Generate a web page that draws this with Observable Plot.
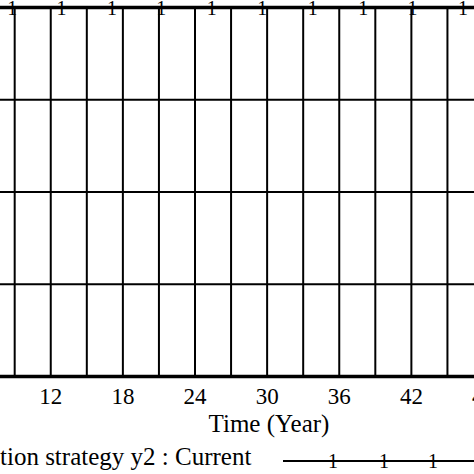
<!DOCTYPE html>
<html><head><meta charset="utf-8">
<script src="https://cdn.jsdelivr.net/npm/d3@7"></script>
<script src="https://cdn.jsdelivr.net/npm/@observablehq/plot@0.6"></script>
<style>
html,body{margin:0;padding:0;background:#fff;}
#page{position:relative;width:474px;height:474px;overflow:hidden;background:#fff;font-family:"Liberation Serif",serif;}
#chart{position:absolute;left:-154px;top:0;width:677px;height:440px;}
#chart svg{max-width:none !important;}
#legend{position:absolute;left:0;top:440px;width:474px;height:34px;}
</style></head><body>
<div id="page"><div id="chart"></div><div id="legend"></div></div>
<script>
// ---- data ----
const xDomain = [0, 48];
const yDomain = [0, 1];
const gridYears = [0, 3, 6, 9, 12, 15, 18, 21, 24, 27, 30, 33, 36, 39, 42, 45, 48];
const tickYears = [0, 6, 12, 18, 24, 30, 36, 42, 48];
const yGridValues = [0.25, 0.5, 0.75];
const lineYears = [0, 48];
const lineValues = [1, 1];
const markerYears = [0.5, 4.7, 8.8, 12.9, 17.1, 21.2, 25.4, 29.6, 33.8, 38.0, 42.1, 46.3];
const markerValues = [1, 1, 1, 1, 1, 1, 1, 1, 1, 1, 1, 1];
const xLabel = "Time (Year)";
const legendText = "tion strategy y2 : Current";
const markerLabel = "1";

const series = lineYears.map((year, i) => ({year, value: lineValues[i]}));
const markers = markerYears.map((year, i) => ({year, value: markerValues[i]}));
const font = "Liberation Serif";

const chart = Plot.plot({
  width: 677, height: 440,
  marginLeft: 60, marginRight: 40, marginTop: 7, marginBottom: 64,
  style: {fontFamily: font, background: "white", color: "black", overflow: "visible", maxWidth: "none"},
  x: {domain: xDomain, axis: null},
  y: {domain: yDomain, axis: null},
  marks: [
    Plot.ruleX(gridYears, {stroke: "black", strokeWidth: 2}),
    Plot.ruleY(yGridValues, {stroke: "black", strokeWidth: 2}),
    Plot.ruleY([yDomain[0]], {stroke: "black", strokeWidth: 3.4}),
    Plot.axisX(tickYears, {anchor: "bottom", tickSize: 0, tickPadding: 11, fontSize: 23, label: null, fill: "black"}),
    Plot.line(series, {x: "year", y: "value", stroke: "black", strokeWidth: 3.4}),
    Plot.text(markers, {x: "year", y: "value", text: () => markerLabel, fontSize: 20, dy: 1, fill: "black"}),
    Plot.text([xLabel], {frameAnchor: "bottom", dx: 74, dy: 55, lineAnchor: "bottom", fontSize: 25, fill: "black"})
  ]
});
document.getElementById("chart").appendChild(chart);

// ---- legend ----
const lg = d3.select("#legend").append("svg").attr("width", 474).attr("height", 34);
lg.append("text").attr("x", 0).attr("y", 25).attr("font-family", font).attr("font-size", 25)
  .attr("fill", "black").text(legendText);
lg.append("line").attr("x1", 283).attr("x2", 480).attr("y1", 21).attr("y2", 21)
  .attr("stroke", "black").attr("stroke-width", 2);
lg.selectAll("text.m").data([333, 384, 433]).join("text").attr("class", "m")
  .attr("x", d => d).attr("y", 22).attr("dy", "0.32em").attr("text-anchor", "middle")
  .attr("font-family", font).attr("font-size", 20).attr("fill", "black").text(markerLabel);
</script>
</body></html>
